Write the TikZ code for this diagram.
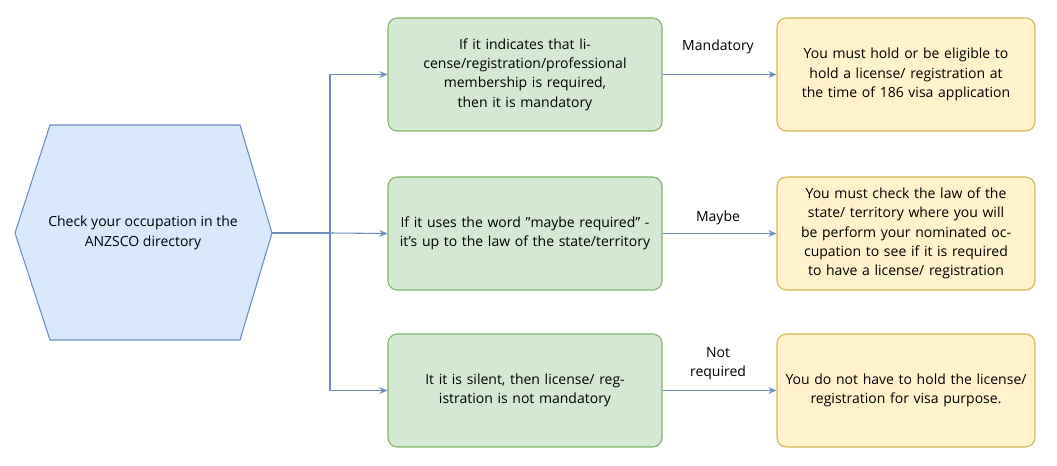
\documentclass[tikz,border=0pt]{standalone}
\usepackage{fontspec}
\setmainfont{Open Sans}
\usetikzlibrary{arrows.meta}
\definecolor{bfill}{HTML}{DAE8FC}\definecolor{bline}{HTML}{6C8EBF}
\definecolor{gfill}{HTML}{D5E8D4}\definecolor{gline}{HTML}{82B366}
\definecolor{yfill}{HTML}{FFF2CC}\definecolor{yline}{HTML}{D6B656}
\definecolor{ed}{HTML}{6C8EBF}
\begin{document}
\begin{tikzpicture}[x=0.75pt,y=-0.75pt,
 font=\fontsize{10.5}{14.5}\selectfont,
 box/.style={draw,rounded corners=7pt,minimum width=205.5pt,minimum height=84.75pt,align=center,text width=195pt,line width=0.8pt},
 gbox/.style={box,fill=gfill,draw=gline},
 ybox/.style={box,fill=yfill,draw=yline,minimum width=193.5pt,text width=185pt},
 arr/.style={draw=ed,line width=0.8pt,-{Stealth[length=6pt,width=5pt]}},
 lab/.style={align=center,fill=white,inner sep=1pt}]
\useasboundingbox (0,0) rectangle (1057,466);
\draw[fill=bfill,draw=bline,line width=0.8pt] (15,233)--(50,125)--(240,125)--(272,233)--(240,340)--(50,340)--cycle;
\node[align=center] (hex) at (143,233) {Check your occupation in the\\ANZSCO directory};
\coordinate (hexR) at (272,233);
\coordinate (split) at (330,233);
\node[gbox] (g1) at (525,74.5) {If it indicates that license/registration/professional membership is required, then it is mandatory};
\node[gbox] (g2) at (525,233.5) {If it uses the word "maybe required" - it's up to the law of the state/territory};
\node[gbox] (g3) at (525,390.5) {It it is silent, then license/ registration is not mandatory};
\node[ybox] (y1) at (906,74.5) {You must hold or be eligible to hold a license/ registration at the time of 186 visa application};
\node[ybox] (y2) at (906,233.5) {You must check the law of the state/ territory where you will be perform your nominated occupation to see if it is required to have a license/ registration};
\node[ybox] (y3) at (906,390.5) {You do not have to hold the license/ registration for visa purpose.};
\draw[draw=ed,line width=0.8pt] (hexR)--(split);
\draw[arr] (split)|-(g1.west);
\draw[arr] (split)--(g2.west);
\draw[arr] (split)|-(g3.west);
\draw[arr] (g1.east)--(y1.west);
\draw[arr] (g2.east)--(y2.west);
\draw[arr] (g3.east)--(y3.west);
\node[lab] (l1) at (718,47) {Mandatory};
\node[lab] (l2) at (718,218) {Maybe};
\node[lab] (l3) at (718,364) {Not\\required};
\end{tikzpicture}
\end{document}
